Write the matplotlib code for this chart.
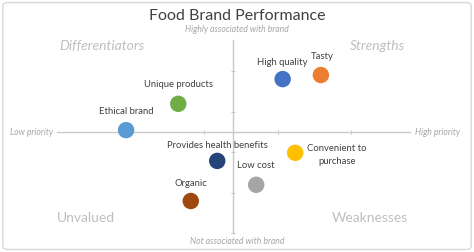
import matplotlib
matplotlib.use("Agg")
from matplotlib import pyplot as plt
from matplotlib.patches import FancyBboxPatch

# data (x = priority, y = brand association)
attributes = ["High quality", "Tasty", "Unique products", "Ethical brand",
              "Provides health benefits", "Convenient to\npurchase", "Low cost", "Organic"]
priority = [3.07, 3.59, 1.65, 0.94, 2.18, 3.24, 2.71, 1.82]
association = [3.80, 3.90, 3.19, 2.54, 1.78, 1.98, 1.19, 0.79]
colors = ["#4472C4", "#ED7D31", "#70AD47", "#5B9BD5",
          "#264478", "#FFC000", "#A5A5A5", "#9E480E"]
# label offset in pixels for each point
offsets = [(0, 17), (1, 19), (0, 19), (0, 19), (0, 15), (42, -2), (0, 19), (0, 18)]

x_cross = 2.4
y_cross = 2.5
x_max = 4.8
y_max = 4.77

plt.rcParams['font.family'] = ['Lato', 'DejaVu Sans']
grey_axis = "#C9C9C9"
grey_txt = "#A6A6A6"
grey_quad = "#BFBFBF"

fig = plt.figure(figsize=(4.74, 2.52), dpi=100)
ax = fig.add_axes([0, 0, 1, 1])
ax.set_xlim(-57 / 73.5, (474 - 57) / 73.5)
ax.set_ylim((233 - 252) / 40.5, 233 / 40.5)
ax.patch.set_alpha(0)

# axis lines through the crossing point
for s in ["top", "right"]:
    ax.spines[s].set_visible(False)
ax.spines["left"].set_position(("data", x_cross))
ax.spines["left"].set_bounds(0, y_max)
ax.spines["bottom"].set_position(("data", y_cross))
ax.spines["bottom"].set_bounds(0, x_max)
for s in ["left", "bottom"]:
    ax.spines[s].set_color(grey_axis)
    ax.spines[s].set_linewidth(1.0)
ax.set_xticks([1, 2, 3, 4])
ax.set_yticks([0, 1, 2, 3, 4])
ax.tick_params(direction="inout", length=3, width=0.8, color=grey_axis,
               labelleft=False, labelbottom=False)

ax.scatter(priority, association, s=140, c=colors, zorder=3, linewidths=0)

for name, px, py, off in zip(attributes, priority, association, offsets):
    ax.annotate(name, (px, py), xytext=off, textcoords="offset pixels",
                ha="center", va="center", fontsize=6.8, color="#404040",
                linespacing=1.5)

# axis end labels
ax.annotate("Low priority", (0, y_cross), xytext=(-4, -1), textcoords="offset pixels",
            ha="right", va="center", fontsize=6.2, style="italic", color=grey_txt)
ax.annotate("High priority", (x_max, y_cross), xytext=(5, -1), textcoords="offset pixels",
            ha="left", va="center", fontsize=6.2, style="italic", color=grey_txt)
ax.annotate("Highly associated with brand", (x_cross, y_max), xytext=(4, 10),
            textcoords="offset pixels", ha="center", va="center",
            fontsize=6.2, style="italic", color=grey_txt)
ax.annotate("Not associated with brand", (x_cross, 0), xytext=(4, -9),
            textcoords="offset pixels", ha="center", va="center",
            fontsize=6.2, style="italic", color=grey_txt)

# quadrant names
ax.text(0.215, 0.817, "Differentiators", transform=ax.transAxes, ha="center", va="center",
        fontsize=10, style="italic", color=grey_quad)
ax.text(0.797, 0.817, "Strengths", transform=ax.transAxes, ha="center", va="center",
        fontsize=10, style="italic", color=grey_quad)
ax.text(0.181, 0.135, "Unvalued", transform=ax.transAxes, ha="center", va="center",
        fontsize=10, color=grey_quad)
ax.text(0.781, 0.135, "Weaknesses", transform=ax.transAxes, ha="center", va="center",
        fontsize=10, color=grey_quad)

fig.text(0.5, 0.937, "Food Brand Performance", ha="center", va="center",
         fontsize=11.5, color="#404040")

# light rounded frame round the chart
frame = FancyBboxPatch((0.006, 0.01), 0.988, 0.98, boxstyle="round,pad=0,rounding_size=0.012",
                       transform=fig.transFigure, facecolor="none",
                       edgecolor="#D9D9D9", linewidth=1.0)
fig.patches.append(frame)

fig.savefig("out.png", dpi=100)
